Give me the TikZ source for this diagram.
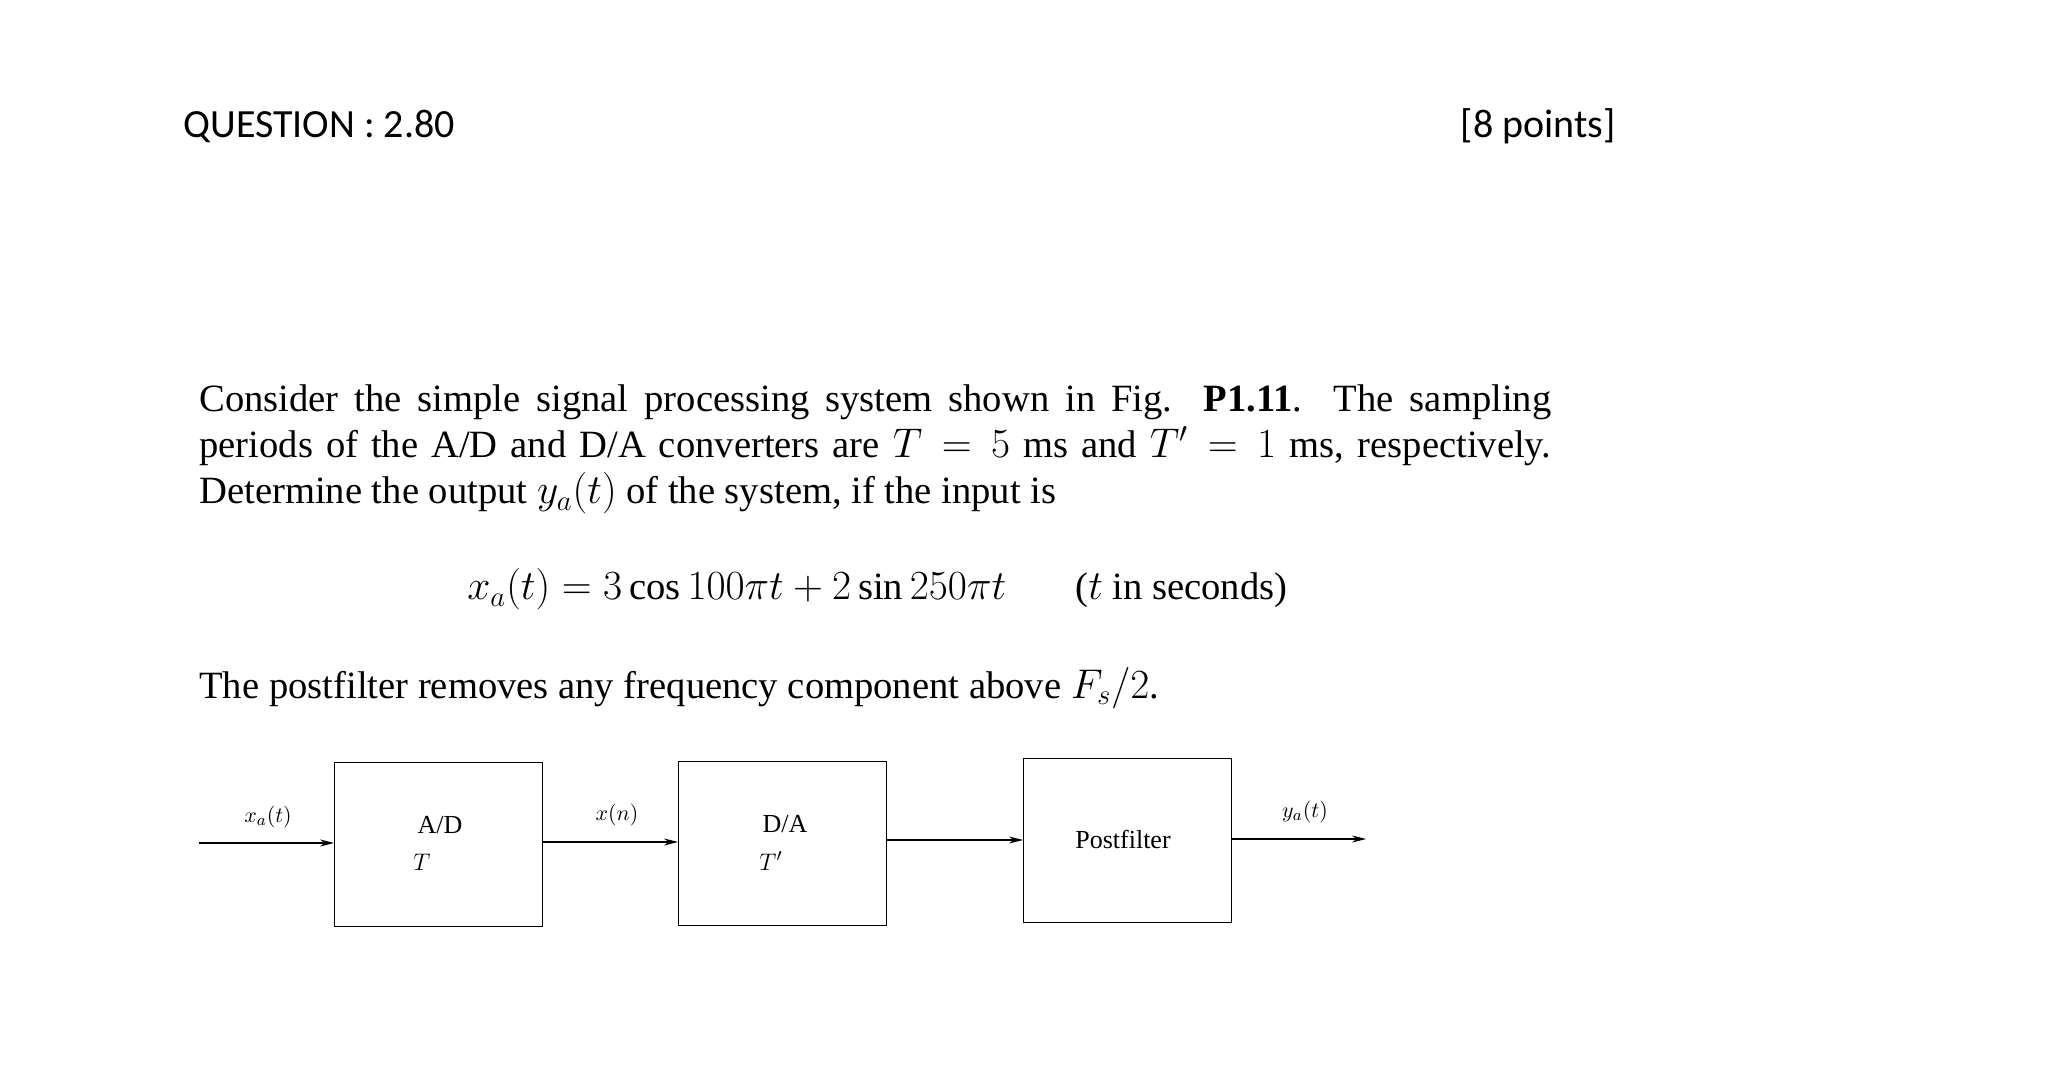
\documentclass[tikz,border=0pt]{standalone}
\usepackage{fontspec}
\setmainfont{Liberation Serif}
\newfontfamily\qfont{Carlito}
\usetikzlibrary{arrows.meta}
\begin{document}
\begin{tikzpicture}[x=0.5pt,y=-0.5pt,
  blk/.style={draw,line width=0.7pt,minimum width=104pt,minimum height=82pt,anchor=north west,inner sep=0},
  sig/.style={line width=0.6pt,-{Stealth[length=7pt,width=3.5pt]}},
  lbl/.style={font=\fontsize{11}{13}\selectfont},
  blbl/.style={font=\fontsize{13}{15}\selectfont},
  txt/.style={anchor=base west,inner sep=0,font=\fontsize{19.3}{23}\selectfont}]
\useasboundingbox (0,0) rectangle (2046,1079);
\node[anchor=base west,inner sep=0,font=\qfont\fontsize{20}{24}\selectfont] (q) at (183,138) {QUESTION : 2.80};
\node[anchor=base east,inner sep=0,font=\qfont\fontsize{20}{24}\selectfont] (p) at (1616,138) {[8 points]};
\node[txt] (l1) at (199,412) {\makebox[676pt][s]{Consider the simple signal processing system shown in Fig. \textbf{P1.11}. The sampling}};
\node[txt] (l2) at (199,458) {\makebox[676pt][s]{periods of the A/D and D/A converters are $T=5$ ms and $T'=1$ ms, respectively.}};
\node[txt] (l3) at (199,504) {Determine the output $y_a(t)$ of the system, if the input is};
\node[txt] (eq) at (467,600) {$x_a(t)=3\cos 100\pi t+2\sin 250\pi t$};
\node[txt] (eq2) at (1075,600) {($t$ in seconds)};
\node[txt] (l4) at (199,698) {The postfilter removes any frequency component above $F_s/2$.};
\node[blk] (ad) at (334,762) {};
\node[blk] (da) at (678,761) {};
\node[blk] (pf) at (1023,758) {};
\node[blbl] (adt) at (440,825) {A/D};
\node[blbl] (adT) at (422,862) {$T$};
\node[blbl] (dat) at (785,824) {D/A};
\node[blbl] (daT) at (771,861) {$T'$};
\node[blbl] (pft) at (1123,839) {Postfilter};
\coordinate (in) at (199,843);
\coordinate (out) at (1366,839);
\draw[sig] (in) -- (in -| ad.west);
\draw[sig] (ad.east |- 0,842) -- (da.west |- 0,842);
\draw[sig] (da.east |- 0,840) -- (pf.west |- 0,840);
\draw[sig] (pf.east |- out) -- (out);
\node[lbl] (xa) at (268,817) {$x_a(t)$};
\node[lbl] (xn) at (617,815) {$x(n)$};
\node[lbl] (ya) at (1305,812) {$y_a(t)$};
\end{tikzpicture}
\end{document}
